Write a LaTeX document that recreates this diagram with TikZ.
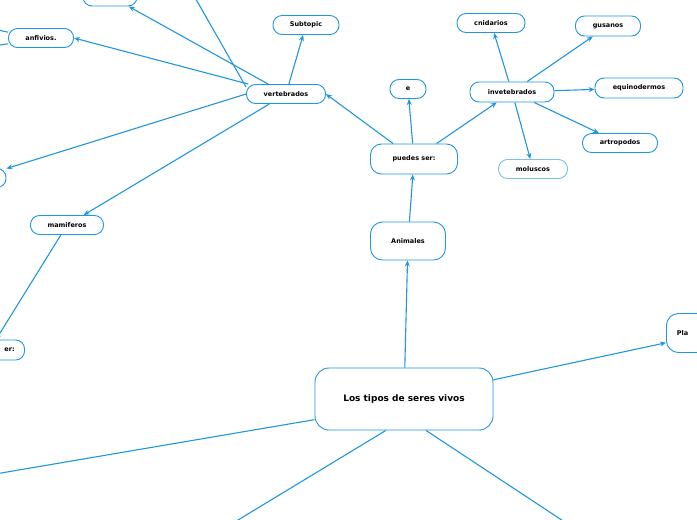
\documentclass[tikz,border=0pt]{standalone}
\usepackage{fontspec}
\setmainfont{DejaVu Sans}
\usetikzlibrary{arrows.meta}
\definecolor{ln}{RGB}{32,150,222}
\begin{document}
\begin{tikzpicture}[x=1pt,y=-1pt,
  box/.style={draw=ln,line width=0.9pt,rounded corners=9pt,fill=white,font=\bfseries\fontsize{6.5}{7}\selectfont,inner sep=0pt},
  con/.style={draw=ln,line width=1.1pt,-{Stealth[length=6pt,width=5pt]}}]
\useasboundingbox (0,0) rectangle (697,520);
\clip (0,0) rectangle (697,520);
\node[box,minimum width=178,minimum height=62,rounded corners=14pt,font=\bfseries\fontsize{9}{10}\selectfont] (main) at (404,399) {Los tipos de seres vivos};
\node[box,minimum width=75,minimum height=38,rounded corners=12pt] (ani) at (408,241) {Animales};
\node[box,minimum width=87,minimum height=30,rounded corners=11pt] (pue) at (414,159) {puedes ser:};
\node[box,minimum width=79,minimum height=19] (ver) at (286,94) {vertebrados};
\node[box,minimum width=84,minimum height=20] (inv) at (512,92) {invetebrados};
\node[box,minimum width=36,minimum height=19] (e) at (408,89) {e};
\node[box,minimum width=66,minimum height=19] (sub) at (306,25) {Subtopic};
\node[box,minimum width=65,minimum height=19] (anf) at (41,38) {anfivios.};
\node[box,minimum width=54,minimum height=20] (top) at (110,-4) {};
\node[box,minimum width=60,minimum height=19] (lft) at (-24,178) {};
\node[box,minimum width=73,minimum height=19] (mam) at (67,225) {mamiferos};
\node[box,minimum width=70,minimum height=20,anchor=east] (er) at (25,350) {\hspace*{40pt}er:};
\node[box,minimum width=68,minimum height=19] (cni) at (491,23) {cnidarios};
\node[box,minimum width=65,minimum height=20] (gus) at (608,26) {gusanos};
\node[box,minimum width=88,minimum height=20] (equ) at (639,88) {equinodermos};
\node[box,minimum width=75,minimum height=19] (art) at (620,143) {artropodos};
\node[box,minimum width=69,minimum height=19,draw=ln!60] (mol) at (533,169) {moluscos};
\node[box,minimum width=90,minimum height=39,rounded corners=12pt,anchor=west] (pla) at (666,333) {\hspace*{-58pt}Pla};
\coordinate (c1) at (185,-20);
\coordinate (c2) at (-40,480);
\coordinate (c3) at (205,540);
\coordinate (c4) at (592,540);
\coordinate (s1) at (-20,26);
\coordinate (s2) at (-20,48);
\draw[con] (main) -- (ani);
\draw[con] (main) -- (pla);
\draw[con] (main.193) -- (c2);
\draw[con] (main.240) -- (c3);
\draw[con] (main.305) -- (c4);
\draw[con] (ani) -- (pue);
\draw[con] (pue) -- (e);
\draw[con] (pue) -- (ver.east);
\draw[con] (pue) -- (inv);
\draw[con] (ver) -- (sub);
\draw[con] (ver) -- (anf.east);
\draw[con] (ver) -- (top);
\draw[con] (ver.170) -- (c1);
\draw[con] (ver.west) -- (lft);
\draw[con] (ver) -- (mam);
\draw[con] (mam) -- (er);
\draw[draw=ln,line width=1.1pt] (anf.170) -- (s1);
\draw[draw=ln,line width=1.1pt] (anf.190) -- (s2);
\draw[con] (inv) -- (cni);
\draw[con] (inv) -- (gus);
\draw[con] (inv) -- (equ);
\draw[con] (inv) -- (art);
\draw[con] (inv) -- (mol);
\end{tikzpicture}
\end{document}
